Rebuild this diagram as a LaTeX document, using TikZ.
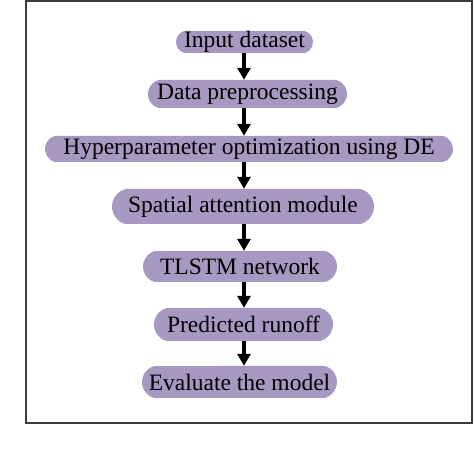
\documentclass[tikz,border=0pt]{standalone}
\usepackage{fontspec}
\setmainfont{Liberation Serif}
\usetikzlibrary{arrows.meta,shapes.misc}
\definecolor{lav}{RGB}{166,152,192}
\definecolor{framegray}{RGB}{60,60,60}
\tikzset{
  stepbox/.style={rounded rectangle, rounded rectangle arc length=150, fill=lav, inner sep=0pt, font=\fontsize{23.5}{25}\selectfont, text=black},
  flowarrow/.style={line width=3.2pt, -{Triangle[length=12pt,width=13pt]}, black}
}
\begin{document}
\begin{tikzpicture}[x=1pt,y=1pt]
\useasboundingbox (0,0) rectangle (474,450);
\draw[framegray, line width=2pt] (26,27) rectangle (472,449);
\node[stepbox, minimum width=137pt, minimum height=22pt] (n1) at (244.5,408) {Input dataset};
\node[stepbox, minimum width=199pt, minimum height=28pt] (n2) at (247.5,356) {Data preprocessing};
\node[stepbox, minimum width=408pt, minimum height=26pt] (n3) at (249,301) {Hyperparameter optimization using DE};
\node[stepbox, minimum width=262pt, minimum height=35pt] (n4) at (243,243.5) {Spatial attention module};
\node[stepbox, minimum width=194pt, minimum height=31pt] (n5) at (240,183.5) {TLSTM network};
\node[stepbox, minimum width=179pt, minimum height=33pt] (n6) at (243.5,125.5) {Predicted runoff};
\node[stepbox, minimum width=195pt, minimum height=32pt] (n7) at (239.5,68) {Evaluate the model};
\coordinate (ax) at (244,0);
\foreach \a/\b in {n1/n2,n2/n3,n3/n4,n4/n5,n5/n6,n6/n7}
  \draw[flowarrow] (\a.south -| ax) -- (\b.north -| ax);
\end{tikzpicture}
\end{document}
